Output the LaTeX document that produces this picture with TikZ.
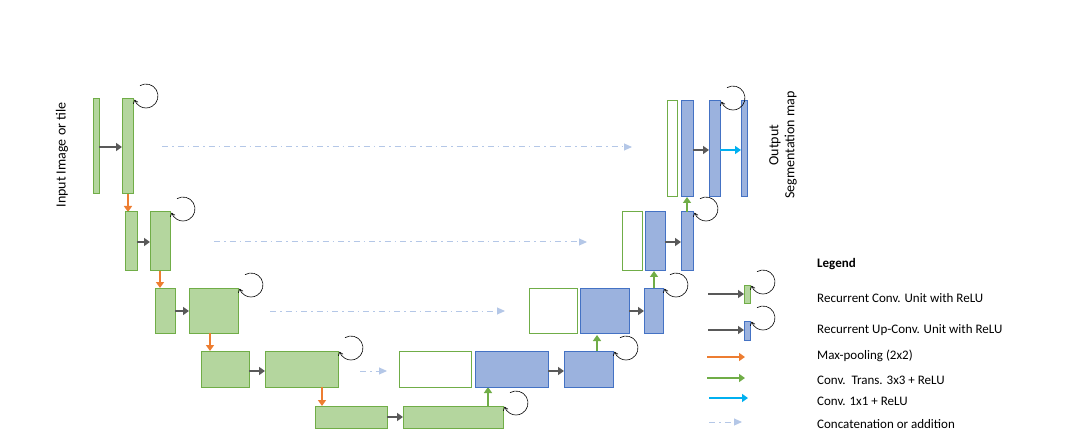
\documentclass[tikz,border=0pt]{standalone}
\usepackage{fontspec}
\setmainfont{Carlito}
\usetikzlibrary{arrows.meta}
\definecolor{gfill}{HTML}{B4D69E}
\definecolor{gline}{HTML}{70AD47}
\definecolor{bfill}{HTML}{9BB2DE}
\definecolor{bline}{HTML}{4472C4}
\definecolor{orng}{HTML}{ED7D31}
\definecolor{cyn}{HTML}{00B0F0}
\definecolor{gry}{HTML}{595959}
\definecolor{dsh}{HTML}{B4C7E7}
\tikzset{
 gbox/.style={draw=gline,fill=gfill,line width=1pt},
 bbox/.style={draw=bline,fill=bfill,line width=1pt},
 wbox/.style={draw=gline,fill=white,line width=1pt},
 fat/.style={line width=2.6pt,-{Triangle[length=6pt,width=8pt]}},
 garr/.style={fat,gry},
 oarr/.style={fat,orng},
 uarr/.style={fat,gline},
 carr/.style={fat,cyn},
 darr/.style={dsh,line width=1pt,dash pattern=on 6pt off 4pt on 1.5pt off 4pt,-{Triangle[length=8pt,width=7pt]}},
 loopa/.style={black,line width=0.6pt,-{Straight Barb[length=3pt,width=5pt]}},
 lbl/.style={font=\fontsize{13}{15}\selectfont,anchor=west,inner sep=0pt},
}
\newcommand{\bx}[6]{\path[#1] (#3,#4) rectangle (#5,#6) coordinate (#2ne); \coordinate (#2) at ($(#3,#4)!0.5!(#5,#6)$);}
\usetikzlibrary{calc}
\newcommand{\rl}[1]{\draw[loopa] ([shift={(13,-3)}]#1) ++(240:12) arc[start angle=240,end angle=522,radius=12];}
\begin{document}
\begin{tikzpicture}[x=1pt,y=-1pt]
\useasboundingbox (0,0) rectangle (1089,446);
% encoder
\draw[gbox] (93,99) rectangle (99,194);
\draw[gbox] (122,99) rectangle (133,194);
\coordinate (a1) at (133,99);
\draw[garr] (99,147) -- (122,147);
\draw[darr] (162,147) -- (632,147);
\draw[oarr] (128,194) -- (128,212);
\draw[gbox] (125,212) rectangle (137,271);
\draw[gbox] (150,212) rectangle (170,271);
\coordinate (b1) at (170,212);
\draw[garr] (137,242) -- (150,242);
\draw[darr] (214,242) -- (587,242);
\draw[oarr] (160,271) -- (160,288);
\draw[gbox] (155,288) rectangle (175,333);
\draw[gbox] (189,288) rectangle (238,333);
\coordinate (c1) at (238,288);
\draw[garr] (175,311) -- (189,311);
\draw[darr] (270,311) -- (505,311);
\draw[oarr] (210,333) -- (210,351);
\draw[gbox] (201,351) rectangle (249,387);
\draw[gbox] (265,351) rectangle (338,387);
\coordinate (d1) at (338,351);
\draw[garr] (249,371) -- (265,371);
\draw[darr] (360,371) -- (387,371);
\draw[oarr] (322,387) -- (322,406);
\draw[gbox] (315,406) rectangle (387,428);
\draw[gbox] (403,406) rectangle (503,428);
\coordinate (e1) at (503,406);
\draw[garr] (387,417) -- (403,417);
\draw[uarr] (488,406) -- (488,387);
% decoder
\draw[wbox] (399,351) rectangle (471,387);
\draw[bbox] (475,351) rectangle (548,387);
\draw[bbox] (564,351) rectangle (613,387);
\coordinate (f2) at (613,351);
\draw[garr] (548,371) -- (564,371);
\draw[uarr] (597,351) -- (597,335);
\draw[wbox] (529,288) rectangle (577,333);
\draw[bbox] (580,288) rectangle (629,333);
\draw[bbox] (644,288) rectangle (663,333);
\coordinate (g2) at (663,288);
\draw[garr] (629,311) -- (644,311);
\draw[uarr] (654,288) -- (654,271);
\draw[wbox] (622,212) rectangle (642,271);
\draw[bbox] (645,212) rectangle (665,271);
\draw[bbox] (681,212) rectangle (693,271);
\coordinate (h2) at (693,212);
\draw[garr] (665,242) -- (681,242);
\draw[uarr] (687,212) -- (687,197);
\draw[wbox] (667,101) rectangle (677,197);
\draw[bbox] (681,101) rectangle (693,197);
\draw[bbox] (709,101) rectangle (720,197);
\coordinate (i2) at (720,101);
\draw[garr] (693,150) -- (709,150);
\draw[bbox] (741,101) rectangle (747,197);
\draw[carr] (720,150) -- (741,150);
\foreach \c in {a1,b1,c1,d1,e1,f2,g2,h2,i2} {\rl{\c}}
\node[rotate=90,font=\fontsize{14}{16}\selectfont] (inp) at (62,155) {Input Image or tile};
\node[rotate=90,font=\fontsize{14}{16}\selectfont,align=center] (out) at (783,145) {Output\\Segmentation map};
% legend
\node[lbl,font=\fontsize{13}{15}\selectfont\bfseries] (lg) at (817,264) {Legend};
\draw[garr] (708,294) -- (744,294);
\draw[gbox] (744,285) rectangle (750,303);
\coordinate (l1) at (750,285);
\node[lbl] (t1) at (817,298) {Recurrent Conv. Unit with ReLU};
\draw[garr] (708,330) -- (744,330);
\draw[bbox] (744,321) rectangle (750,340);
\coordinate (l2) at (750,321);
\rl{l1}\rl{l2}
\node[lbl] (t2) at (817,330) {Recurrent Up-Conv. Unit with ReLU};
\draw[oarr] (707,357) -- (745,357);
\node[lbl] (t3) at (817,356) {Max-pooling (2x2)};
\draw[uarr] (707,378) -- (745,378);
\node[lbl] (t4) at (817,380) {Conv.\ \ Trans. 3x3 + ReLU};
\draw[carr] (709,398) -- (748,398);
\node[lbl] (t5) at (817,401) {Conv. 1x1 + ReLU};
\draw[darr] (709,422) -- (742,422);
\node[lbl] (t6) at (817,424) {Concatenation or addition};
\end{tikzpicture}
\end{document}
